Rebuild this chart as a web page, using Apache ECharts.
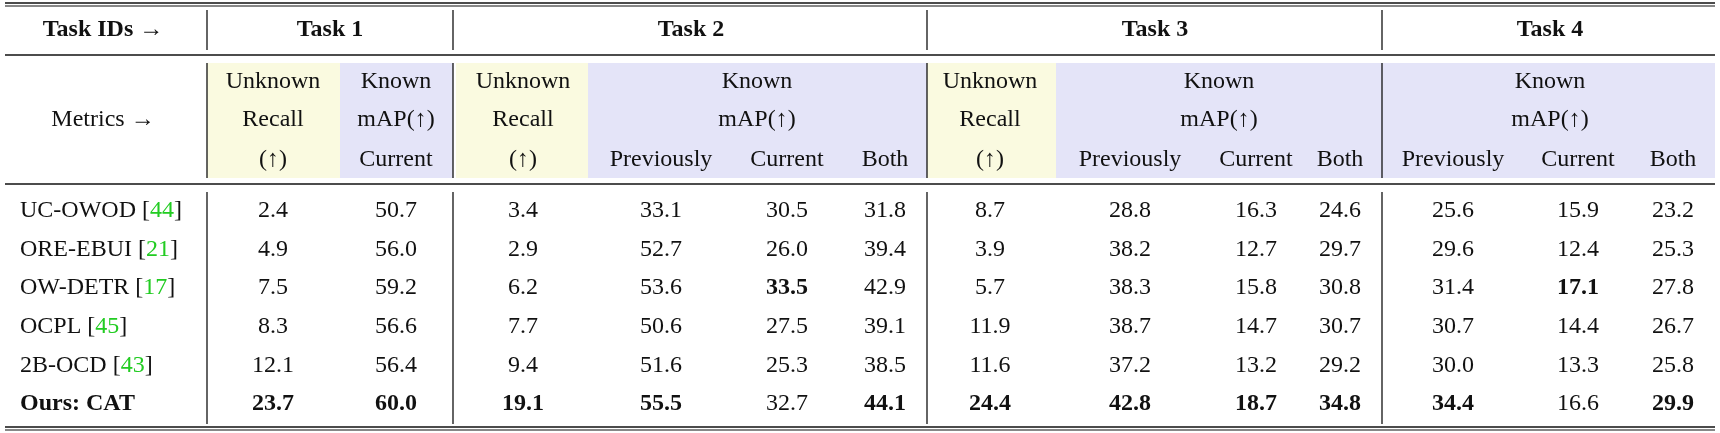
<!DOCTYPE html>
<html>
<head>
<meta charset="utf-8">
<script src="https://cdn.jsdelivr.net/npm/echarts@6/dist/echarts.min.js"></script>
<style>html,body{margin:0;padding:0;background:#fff}#chart{width:1720px;height:433px}</style>
</head>
<body>
<div id="chart"></div>
<script>
// table data
var methods = ['UC-OWOD', 'ORE-EBUI', 'OW-DETR', 'OCPL', '2B-OCD', 'Ours: CAT'];
var refs = ['44', '21', '17', '45', '43', ''];
var t1Unknown = [2.4, 4.9, 7.5, 8.3, 12.1, 23.7];
var t1Current = [50.7, 56.0, 59.2, 56.6, 56.4, 60.0];
var t2Unknown = [3.4, 2.9, 6.2, 7.7, 9.4, 19.1];
var t2Previously = [33.1, 52.7, 53.6, 50.6, 51.6, 55.5];
var t2Current = [30.5, 26.0, 33.5, 27.5, 25.3, 32.7];
var t2Both = [31.8, 39.4, 42.9, 39.1, 38.5, 44.1];
var t3Unknown = [8.7, 3.9, 5.7, 11.9, 11.6, 24.4];
var t3Previously = [28.8, 38.2, 38.3, 38.7, 37.2, 42.8];
var t3Current = [16.3, 12.7, 15.8, 14.7, 13.2, 18.7];
var t3Both = [24.6, 29.7, 30.8, 30.7, 29.2, 34.8];
var t4Previously = [25.6, 29.6, 31.4, 30.7, 30.0, 34.4];
var t4Current = [15.9, 12.4, 17.1, 14.4, 13.3, 16.6];
var t4Both = [23.2, 25.3, 27.8, 26.7, 25.8, 29.9];
var taskTitles = ['Task 1', 'Task 2', 'Task 3', 'Task 4'];

// layout (pixel space of the value axes)
var columns = [t1Unknown, t1Current, t2Unknown, t2Previously, t2Current, t2Both,
               t3Unknown, t3Previously, t3Current, t3Both, t4Previously, t4Current, t4Both];
var colX = [273, 396, 523, 661, 787, 885, 990, 1130, 1256, 1340, 1453, 1578, 1673];
var rowY = [211, 250, 288, 327, 366, 404];
var sepX = [207, 453, 927, 1382];
var taskX = [330, 691, 1155, 1550];
var YELLOW = '#fafae0', BLUE = '#e4e4f8';
var FONT = '"Liberation Serif", "DejaVu Serif", serif';
var SIZE = '24px ';

var texts = [];  // [x, y, text, bold, align, rich]
texts.push([103, 30, 'Task IDs →', true]);
taskTitles.forEach(function (t, i) { texts.push([taskX[i], 30, t, true]); });
texts.push([103, 120, 'Metrics →', false]);
[273, 523, 990].forEach(function (x) {
  texts.push([x, 82, 'Unknown'], [x, 120, 'Recall'], [x, 160, '(↑)']);
});
texts.push([396, 82, 'Known'], [396, 120, 'mAP(↑)'], [396, 160, 'Current']);
[[757, 661, 787, 885], [1219, 1130, 1256, 1340], [1550, 1453, 1578, 1673]].forEach(function (g) {
  texts.push([g[0], 82, 'Known'], [g[0], 120, 'mAP(↑)'],
             [g[1], 160, 'Previously'], [g[2], 160, 'Current'], [g[3], 160, 'Both']);
});
methods.forEach(function (m, r) {
  var label = refs[r] ? '{n|' + m + ' [}{g|' + refs[r] + '}{n|]}' : m;
  texts.push([20, rowY[r], label, r === methods.length - 1, 'left', !!refs[r]]);
});
columns.forEach(function (col, c) {
  var best = Math.max.apply(null, col);
  col.forEach(function (v, r) { texts.push([colX[c], rowY[r], v.toFixed(1), v === best]); });
});

var rects = [[207, 340, YELLOW], [340, 453, BLUE], [456, 588, YELLOW], [588, 927, BLUE],
             [927, 1056, YELLOW], [1056, 1382, BLUE], [1382, 1715, BLUE]];
var lines = [[5, 1715, 3, 3, 1.5], [5, 1715, 6, 6, 1.2], [5, 1715, 55, 55, 1.5], [5, 1715, 184, 184, 1.5],
             [5, 1715, 427, 427, 1.5], [5, 1715, 430, 430, 1.2]];
sepX.forEach(function (x, i) {
  lines.push([x, x, 10, 50, 1.3], [x, x, 63, 178, 1.3], [x, x, 192, 424, 1.3]);
});

var chart = echarts.init(document.getElementById('chart'));
chart.setOption({
  animation: false,
  grid: { left: 0, right: 0, top: 0, bottom: 0 },
  xAxis: { type: 'value', min: 0, max: 1720, show: false },
  yAxis: { type: 'value', min: 0, max: 433, inverse: true, show: false },
  series: [
    {
      type: 'custom', silent: true,
      data: rects.map(function (r) { return [r[0], r[1]]; }),
      renderItem: function (params, api) {
        var a = api.coord([api.value(0), 63]), b = api.coord([api.value(1), 178]);
        return { type: 'rect', shape: { x: a[0], y: a[1], width: b[0] - a[0], height: b[1] - a[1] },
                 style: { fill: rects[params.dataIndex][2] } };
      }
    },
    {
      type: 'custom', silent: true,
      data: lines.map(function (l) { return l.slice(0, 4); }),
      renderItem: function (params, api) {
        var a = api.coord([api.value(0), api.value(2)]), b = api.coord([api.value(1), api.value(3)]);
        return { type: 'line', shape: { x1: a[0], y1: a[1], x2: b[0], y2: b[1] },
                 style: { stroke: '#111', lineWidth: lines[params.dataIndex][4] } };
      }
    },
    {
      type: 'custom', silent: true,
      data: texts.map(function (t) { return [t[0], t[1]]; }),
      renderItem: function (params, api) {
        var t = texts[params.dataIndex];
        var p = api.coord([api.value(0), api.value(1)]);
        var weight = t[3] ? 'bold ' : 'normal ';
        var style = { text: t[2], x: p[0], y: p[1], align: t[4] || 'center', verticalAlign: 'middle',
                      font: weight + SIZE + FONT, fill: '#111' };
        if (t[5]) {
          style.rich = { n: { font: SIZE + FONT, fill: '#111' }, g: { font: SIZE + FONT, fill: '#22cc22' } };
        }
        return { type: 'text', style: style };
      }
    }
  ]
});
</script>
</body>
</html>
